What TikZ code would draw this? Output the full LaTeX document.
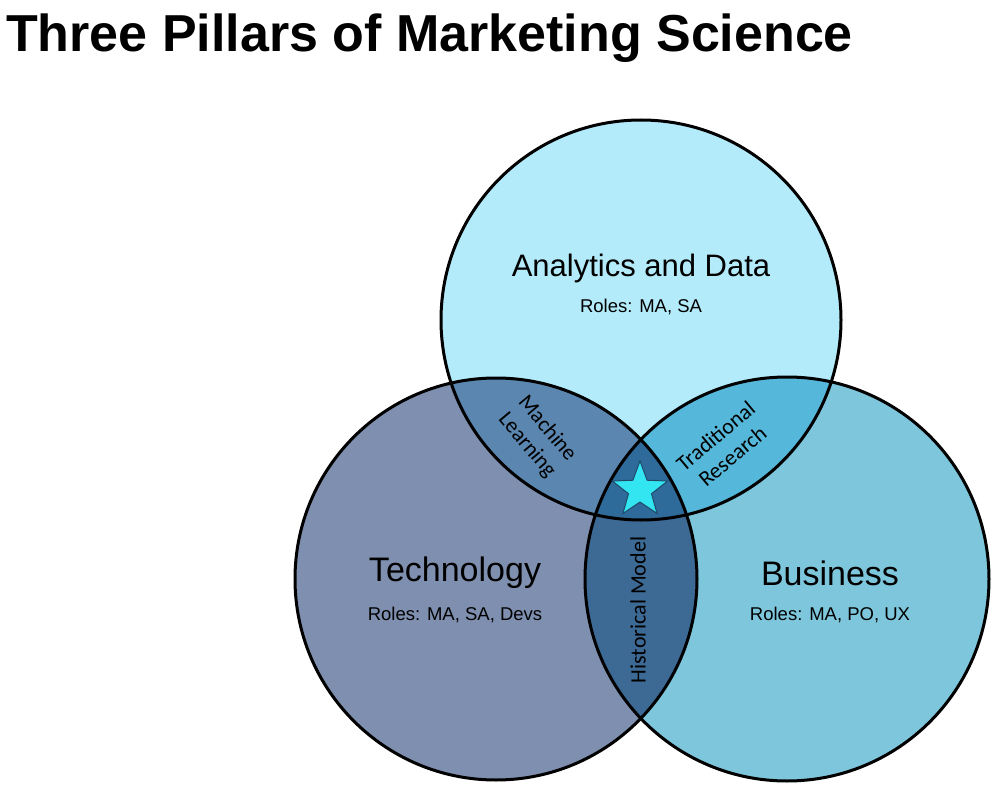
\documentclass[tikz,border=0pt]{standalone}
\usepackage{fontspec}
\setmainfont{Liberation Sans}
\newfontfamily\carlitofont{Carlito}
\usetikzlibrary{shapes.geometric}
\definecolor{cA}{HTML}{B3EBFA}
\definecolor{cT}{HTML}{7F8FAF}
\definecolor{cB}{HTML}{7EC6DC}
\definecolor{cAT}{HTML}{5A86B0}
\definecolor{cAB}{HTML}{55B8DA}
\definecolor{cTB}{HTML}{3C6A95}
\definecolor{cAll}{HTML}{2E6A9A}
\definecolor{starc}{HTML}{33E5F0}
\begin{document}
\begin{tikzpicture}[x=1pt,y=-1pt,
  ring/.style={draw=black,line width=3pt},
  lens/.style={font=\carlitofont\fontsize{22}{26}\selectfont,align=center,text=black}]
\useasboundingbox (0,0) rectangle (1005,792);
\def\A{(641,320) circle (200)}
\def\T{(496,579) circle (201)}
\def\B{(787,579) circle (202)}
\fill[cA] \A; \fill[cT] \T; \fill[cB] \B;
\begin{scope}\clip \A; \fill[cAT] \T; \fill[cAB] \B;\end{scope}
\begin{scope}\clip \T; \fill[cTB] \B;\end{scope}
\begin{scope}\clip \A; \clip \T; \fill[cAll] \B;\end{scope}
\draw[ring] \A; \draw[ring] \T; \draw[ring] \B;
\node[anchor=base west,font=\bfseries\fontsize{52}{56}\selectfont,inner sep=0pt] (title) at (6,52) {Three Pillars of Marketing Science};
\node[font=\fontsize{31}{33}\selectfont] (a) at (641,268) {Analytics and Data};
\node[font=\fontsize{18.5}{20}\selectfont] (ar) at (641,307) {Roles: MA, SA};
\node[font=\fontsize{34}{36}\selectfont] (t) at (455,573) {Technology};
\node[font=\fontsize{18.5}{20}\selectfont] (tr) at (455,615) {Roles: MA, SA, Devs};
\node[font=\fontsize{34}{36}\selectfont] (b) at (830,573) {Business};
\node[font=\fontsize{18.5}{20}\selectfont] (br) at (830,615) {Roles: MA, PO, UX};
\node[lens,rotate=-50] (ml) at (537,437) {Machine\\Learning};
\node[lens,rotate=40] (tres) at (724,446) {Traditional\\Research};
\node[lens,rotate=90] (hm) at (638,610) {Historical Model};
\node[star,star points=5,star point ratio=2.4,minimum size=58pt,inner sep=0pt,fill=starc,draw=cAll!70!black,line width=1pt] (st) at (640,490) {};
\end{tikzpicture}
\end{document}
